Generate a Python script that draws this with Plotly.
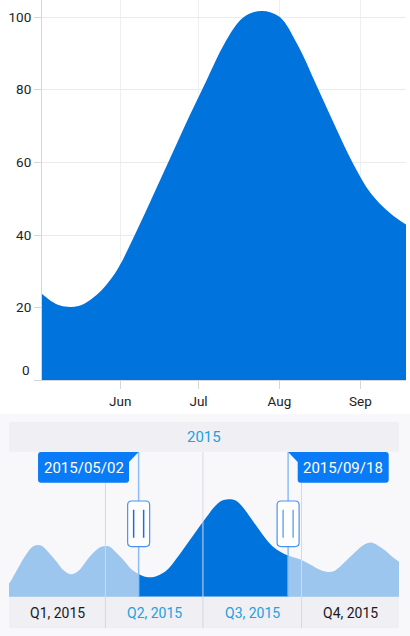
import plotly.graph_objects as go
import pandas as pd

# ---------------- data ----------------
dates = ["2015-01-01", "2015-01-03", "2015-01-10", "2015-01-17", "2015-01-24", "2015-01-31",
         "2015-02-07", "2015-02-14", "2015-02-21", "2015-02-28", "2015-03-07", "2015-03-14",
         "2015-03-21", "2015-03-28", "2015-04-04", "2015-04-11", "2015-04-18", "2015-04-25",
         "2015-05-02", "2015-05-09", "2015-05-16", "2015-05-23", "2015-05-30", "2015-06-06",
         "2015-06-13", "2015-06-20", "2015-06-27", "2015-07-04", "2015-07-11", "2015-07-18",
         "2015-07-25", "2015-08-01", "2015-08-08", "2015-08-15", "2015-08-22", "2015-08-29",
         "2015-09-05", "2015-09-12", "2015-09-19", "2015-09-26", "2015-10-03", "2015-10-10",
         "2015-10-17", "2015-10-24", "2015-10-31", "2015-11-07", "2015-11-14", "2015-11-21",
         "2015-11-28", "2015-12-05", "2015-12-12", "2015-12-19", "2015-12-26", "2015-12-31"]
values = [14, 17, 31, 44, 53, 53.5,
          46, 37, 27.5, 23.3, 27, 37,
          46, 52, 52.5, 46, 38, 29,
          23.8, 20.6, 20.5, 23.6, 29.5, 39.2,
          50.0, 61.0, 72.0, 82.5, 92.8, 99.8,
          101.7, 100.1, 92.3, 81.5, 70.5, 60.0,
          51.5, 46.3, 42.7, 40.3, 37.3, 33,
          28.5, 26, 26.5, 32.5, 40, 47.5,
          54, 56.5, 53, 47.5, 40.5, 36.5]

sel_start = "2015-05-02"
sel_end = "2015-09-18 12:00"
sel_labels = ["2015/05/02", "2015/09/18"]
year_label = "2015"
quarter_starts = ["2015-01-01", "2015-04-01", "2015-07-01", "2015-10-01"]
quarter_ends = ["2015-04-01", "2015-07-01", "2015-10-01", "2015-12-31"]
quarter_labels = ["Q1, 2015", "Q2, 2015", "Q3, 2015", "Q4, 2015"]
quarter_active = [False, True, True, False]
month_ticks = ["2015-06-01", "2015-07-01", "2015-08-01", "2015-09-01"]
month_labels = ["Jun", "Jul", "Aug", "Sep"]
y_ticks = [0, 20, 40, 60, 80, 100]

# ---------------- styling ----------------
W, H = 410, 636
FONT = "Roboto"
DARK = "#0173DD"
TIP = "#0A7BF6"
BAND = "#EFEFF4"
CONTAINER = "#F8F8FA"
BLUE_TXT = "#23A0DD"
THUMB_BORDER = "#4A93F0"


def px(v):
    return v / W


def py(v):
    return 1 - v / H


nav_top, nav_bot = 452, 596.7

fig = go.Figure()
fig.add_trace(go.Scatter(x=dates, y=values, mode="lines", line=dict(width=0, shape="spline", color=DARK),
                         fill="tozeroy", fillcolor=DARK, hoverinfo="skip", xaxis="x", yaxis="y"))
fig.add_trace(go.Scatter(x=dates, y=values, mode="lines", line=dict(width=0, shape="spline", color=DARK),
                         fill="tozeroy", fillcolor=DARK, hoverinfo="skip", xaxis="x2", yaxis="y2"))

shapes = []
shapes.append(dict(type="rect", xref="paper", yref="paper", x0=0, x1=1, y0=py(636), y1=py(414),
                   fillcolor=CONTAINER, line=dict(width=0), layer="below"))
shapes.append(dict(type="rect", xref="paper", yref="paper", x0=px(9), x1=px(399), y0=py(451.7), y1=py(422),
                   fillcolor=BAND, line=dict(width=0), layer="below"))
shapes.append(dict(type="rect", xref="paper", yref="paper", x0=px(9), x1=px(399), y0=py(628.3), y1=py(nav_bot),
                   fillcolor=BAND, line=dict(width=0), layer="below"))
for a, b in [(quarter_starts[0], sel_start), (sel_end, quarter_ends[-1])]:
    shapes.append(dict(type="rect", xref="x2", yref="paper", x0=a, x1=b, y0=py(nav_bot), y1=py(nav_top),
                       fillcolor="rgba(247,246,248,0.635)", line=dict(width=0), layer="above"))
for q in quarter_starts[1:]:
    shapes.append(dict(type="line", xref="x2", yref="paper", x0=q, x1=q, y0=py(628.3), y1=py(nav_top),
                       line=dict(color="#D8D8E0", width=1), layer="above"))
for s in [sel_start, sel_end]:
    shapes.append(dict(type="line", xref="x2", yref="paper", x0=s, x1=s, y0=py(nav_bot), y1=py(nav_top),
                       line=dict(color="#8CBDF4", width=1.5), layer="above"))

thumb_path = ("M -7,22.8 L 7,22.8 Q 11,22.8 11,18.8 L 11,-18.8 Q 11,-22.8 7,-22.8 "
              "L -7,-22.8 Q -11,-22.8 -11,-18.8 L -11,18.8 Q -11,22.8 -7,22.8 Z")
for s, lc in [(sel_start, "#1C6DE0"), (sel_end, "#6EAAF3")]:
    shapes.append(dict(type="path", xref="x2", yref="paper", xsizemode="pixel", ysizemode="pixel",
                       xanchor=s, yanchor=py(523.8), path=thumb_path, fillcolor="white",
                       line=dict(color=THUMB_BORDER, width=1.2), layer="above"))
    shapes.append(dict(type="path", xref="x2", yref="paper", xsizemode="pixel", ysizemode="pixel",
                       xanchor=s, yanchor=py(523.8), path="M -5,14 L -5,-14 M 5,14 L 5,-14",
                       line=dict(color=lc, width=1.5), layer="above"))

tip_left = ("M -97.6,0 L 0,0 L -9.6,-10 L -9.6,-27.7 Q -9.6,-30.7 -12.6,-30.7 L -97.6,-30.7 "
            "Q -100.6,-30.7 -100.6,-27.7 L -100.6,-3 Q -100.6,0 -97.6,0 Z")
tip_right = ("M 97.6,0 L 0,0 L 9.6,-10 L 9.6,-27.7 Q 9.6,-30.7 12.6,-30.7 L 97.6,-30.7 "
             "Q 100.6,-30.7 100.6,-27.7 L 100.6,-3 Q 100.6,0 97.6,0 Z")
for s, p in [(sel_start, tip_left), (sel_end, tip_right)]:
    shapes.append(dict(type="path", xref="x2", yref="paper", xsizemode="pixel", ysizemode="pixel",
                       xanchor=s, yanchor=py(nav_top), path=p, fillcolor=TIP,
                       line=dict(width=0), layer="above"))

annotations = []
annotations.append(dict(text=year_label, xref="paper", yref="paper", x=px(204), y=py(437),
                        showarrow=False, font=dict(family=FONT, size=15, color=BLUE_TXT),
                        xanchor="center", yanchor="middle"))
for qs, qe, lab, act in zip(quarter_starts, quarter_ends, quarter_labels, quarter_active):
    mid = pd.Timestamp(qs) + (pd.Timestamp(qe) - pd.Timestamp(qs)) / 2
    annotations.append(dict(text=lab, xref="x2", yref="paper", x=mid.strftime("%Y-%m-%d %H:%M"), y=py(612.5),
                            showarrow=False, xanchor="center", yanchor="middle",
                            font=dict(family=FONT, size=14, color=BLUE_TXT if act else "#1A1A1A")))
for s, lab, sh in [(sel_start, sel_labels[0], -55.1), (sel_end, sel_labels[1], 55.1)]:
    annotations.append(dict(text=lab, xref="x2", yref="paper", x=s, xshift=sh, y=py(467.5),
                            showarrow=False, xanchor="center", yanchor="middle",
                            font=dict(family=FONT, size=15, color="white")))
annotations.append(dict(text=str(y_ticks[0]), xref="paper", yref="paper", x=px(32), y=py(370),
                        showarrow=False, xanchor="right", yanchor="middle",
                        font=dict(family=FONT, size=13.5, color="#222222")))

fig.update_layout(
    width=W, height=H, margin=dict(l=0, r=0, t=0, b=0),
    paper_bgcolor="white", plot_bgcolor="white", showlegend=False,
    font=dict(family=FONT, size=13.5, color="#222222"),
    shapes=shapes, annotations=annotations,
    xaxis=dict(domain=[px(42), px(406)], type="date", range=[sel_start, sel_end],
               tickvals=month_ticks, ticktext=month_labels, showgrid=True, gridcolor="#EFEFEF",
               ticks="outside", ticklen=8, tickcolor="#D6D6D6", showline=True, linecolor="#D6D6D6",
               zeroline=False, anchor="y", tickfont=dict(family=FONT, size=13.5, color="#222222")),
    yaxis=dict(domain=[py(380.4), 1], range=[0, 104.7], tickvals=y_ticks,
               ticktext=[""] + [str(v) for v in y_ticks[1:]], showgrid=True, gridcolor="#EBEBEB",
               ticks="outside", ticklen=7, tickcolor="#D6D6D6", showline=True, linecolor="#D6D6D6",
               zeroline=False, anchor="x", tickfont=dict(family=FONT, size=13.5, color="#222222")),
    xaxis2=dict(domain=[px(9), px(399)], type="date", range=[quarter_starts[0], quarter_ends[-1]],
                showgrid=False, showticklabels=False, ticks="", zeroline=False, showline=False, anchor="y2"),
    yaxis2=dict(domain=[py(nav_bot), py(nav_top)], range=[0, 150.9], showgrid=False,
                showticklabels=False, ticks="", zeroline=False, showline=False, anchor="x2"),
)

fig.write_html("out.html", config={"displayModeBar": False},
               post_script="document.body.style.margin='0';document.body.style.overflow='hidden';")
